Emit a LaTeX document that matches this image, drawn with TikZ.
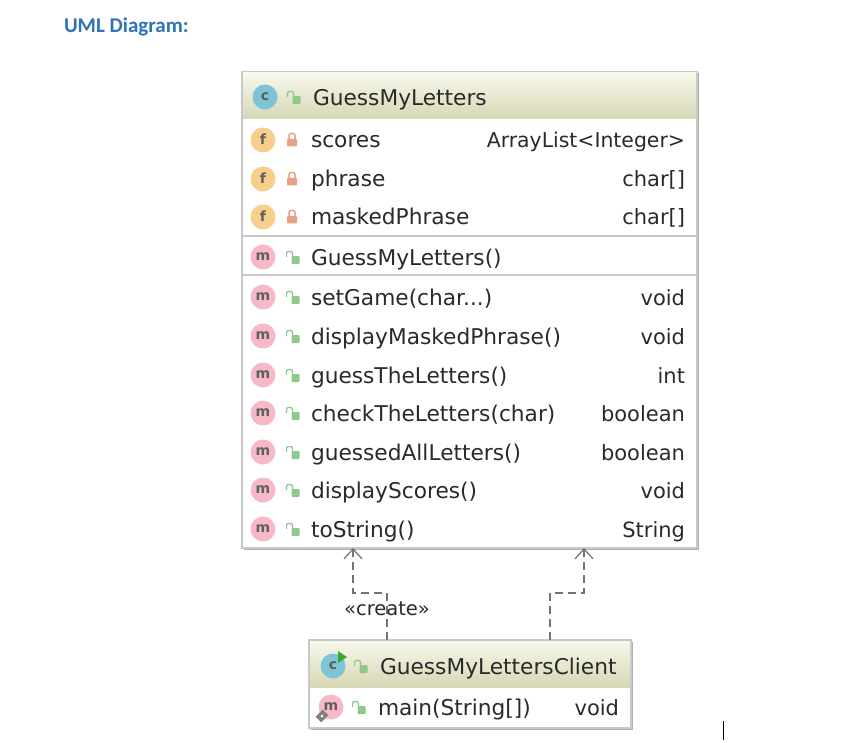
\documentclass[tikz,border=0pt]{standalone}
\usepackage{fontspec}
\setmainfont{DejaVu Sans}
\newfontfamily\titlefont{Carlito}
\usetikzlibrary{arrows.meta,calc,shadows}
\definecolor{edgegrey}{HTML}{C8C8C8}
\definecolor{hdtop}{HTML}{F8F8EC}
\definecolor{hdbot}{HTML}{D6D7B4}
\definecolor{cicon}{HTML}{7FC4D6}
\definecolor{ficon}{HTML}{F7CE8B}
\definecolor{micon}{HTML}{F7B9C8}
\definecolor{greenlock}{HTML}{8FC98A}
\definecolor{redlock}{HTML}{E8A183}
\definecolor{txt}{HTML}{2A2A2A}
\definecolor{titleblue}{HTML}{2E74B5}
\tikzset{
  x=1pt,y=-1pt,
  every node/.style={inner sep=0pt,outer sep=0pt},
  umlbox/.style={draw=edgegrey,line width=1.6pt,fill=white,anchor=north west,drop shadow={shadow xshift=1.5pt,shadow yshift=-1.5pt,opacity=.45,fill=black!70}},
  header/.style={anchor=north west,top color=hdtop,bottom color=hdbot,minimum height=#1},
  membertxt/.style={anchor=base west,text=txt,font=\fontsize{21.7}{25}\selectfont},
  typetxt/.style={anchor=base east,text=txt,font=\fontsize{21}{25}\selectfont},
  icontxt/.style={text=txt!75,font=\fontsize{14}{15}\bfseries\selectfont},
  depline/.style={draw=black!55,line width=1.2pt,dash pattern=on 8pt off 5pt},
  deptip/.style={-{Straight Barb[length=10pt,width=18pt,line width=1.2pt]}},
  sep/.style={draw=edgegrey,line width=1.8pt}
}
\newcommand{\lockopen}[2]{%
  \fill[greenlock,rounded corners=.8pt] (#1-1.5,#2-2) rectangle (#1+6.5,#2+6);
  \draw[greenlock,line width=1.4pt,rounded corners=2pt] (#1-.5,#2-2) -- (#1-.5,#2-6.5) -- (#1-6.5,#2-6.5) -- (#1-6.5,#2-1);
}
\newcommand{\lockclosed}[2]{%
  \fill[redlock,rounded corners=.8pt] (#1-5,#2-1) rectangle (#1+5,#2+6.5);
  \draw[redlock,line width=1.5pt,rounded corners=2pt] (#1-3,#2-1) -- (#1-3,#2-6.5) -- (#1+3,#2-6.5) -- (#1+3,#2-1);
}
\newcommand{\icon}[5]{% name, x, y, colour, letter
  \node[circle,fill=#4,minimum size=25pt,icontxt] (#1) at (#2,#3) {\raisebox{.8pt}{#5}};
}
\begin{document}
\begin{tikzpicture}
\useasboundingbox (0,0) rectangle (845,743);
\fill[white] (0,0) rectangle (845,743);

\node[anchor=base west,text=titleblue,font=\titlefont\fontsize{21}{23}\bfseries\selectfont] (title) at (64,33) {UML Diagram:};

% main class
\node[umlbox,minimum width=455pt,minimum height=476pt] (mainbox) at (242,72) {};
\node[header=46pt,minimum width=453pt] (mainhead) at (243,73) {};
\draw[sep] (243,236) -- (696,236);
\draw[sep] (243,275) -- (696,275);

\icon{ic0}{265}{97}{cicon}{c}
\lockopen{294}{98}
\node[membertxt] (t0) at (313,106) {GuessMyLetters};

\icon{f1}{263}{140}{ficon}{f}
\lockclosed{292}{140}
\node[membertxt] (n1) at (311,148) {scores};
\node[typetxt,font=\fontsize{20.4}{25}\selectfont] (y1) at (685,148) {ArrayList<Integer>};

\icon{f2}{263}{179}{ficon}{f}
\lockclosed{292}{179}
\node[membertxt] (n2) at (311,187) {phrase};
\node[typetxt] (y2) at (685,187) {char[]};

\icon{f3}{263}{217}{ficon}{f}
\lockclosed{292}{217}
\node[membertxt] (n3) at (311,225) {maskedPhrase};
\node[typetxt] (y3) at (685,225) {char[]};

\icon{m0}{263}{257}{micon}{m}
\lockopen{293}{258}
\node[membertxt] (n4) at (311,265) {GuessMyLetters()};

\icon{m1}{263}{297}{micon}{m}
\lockopen{293}{298}
\node[membertxt] (n5) at (311,305) {setGame(char...)};
\node[typetxt] (y5) at (685,305) {void};

\icon{m2}{263}{336}{micon}{m}
\lockopen{293}{337}
\node[membertxt] (n6) at (311,344) {displayMaskedPhrase()};
\node[typetxt] (y6) at (685,344) {void};

\icon{m3}{263}{375}{micon}{m}
\lockopen{293}{376}
\node[membertxt] (n7) at (311,383) {guessTheLetters()};
\node[typetxt] (y7) at (685,383) {int};

\icon{m4}{263}{413}{micon}{m}
\lockopen{293}{414}
\node[membertxt] (n8) at (311,421) {checkTheLetters(char)};
\node[typetxt] (y8) at (685,421) {boolean};

\icon{m5}{263}{452}{micon}{m}
\lockopen{293}{453}
\node[membertxt] (n9) at (311,460) {guessedAllLetters()};
\node[typetxt] (y9) at (685,460) {boolean};

\icon{m6}{263}{490}{micon}{m}
\lockopen{293}{491}
\node[membertxt] (n10) at (311,498) {displayScores()};
\node[typetxt] (y10) at (685,498) {void};

\icon{m7}{263}{529}{micon}{m}
\lockopen{293}{530}
\node[membertxt] (n11) at (311,537) {toString()};
\node[typetxt] (y11) at (685,537) {String};

% client class
\node[umlbox,minimum width=322pt,minimum height=88pt] (client) at (309,640) {};
\node[header=46pt,minimum width=320pt] (clienthead) at (310,641) {};

\icon{ic1}{333}{666}{cicon}{c}
\fill[green!60!black!80] (338,651) -- (347,657) -- (338,663) -- cycle;
\lockopen{361}{667}
\node[membertxt] (t1) at (380,674) {GuessMyLettersClient};

\icon{mm}{331}{707}{micon}{m}
\fill[black!50,rotate around={45:(322,716)}] (317,712) rectangle (327,720);
\fill[white] (322,716) circle (1.5pt);
\lockopen{359}{708}
\node[membertxt] (n12) at (378,715) {main(String[])};
\node[typetxt] (y12) at (619,715) {void};

% dependencies
\coordinate (a1) at (387,640);
\coordinate (a2) at (387,593);
\coordinate (a3) at (353,593);
\coordinate (b1) at (550,640);
\coordinate (b2) at (550,593);
\coordinate (b3) at (584,593);
\draw[depline,deptip] (client.north -| a1) -- (a2) -- (a3) -- (a3 |- mainbox.south);
\draw[depline,deptip] (client.north -| b1) -- (b2) -- (b3) -- (b3 |- mainbox.south);

\node[anchor=base,text=txt,font=\fontsize{19.5}{22}\selectfont] (create) at (387,615) {«create»};

% text cursor
\coordinate (c1) at (723,721);
\coordinate (c2) at (723,740);
\draw[black,line width=1pt] (c1) -- (c2);
\end{tikzpicture}
\end{document}
